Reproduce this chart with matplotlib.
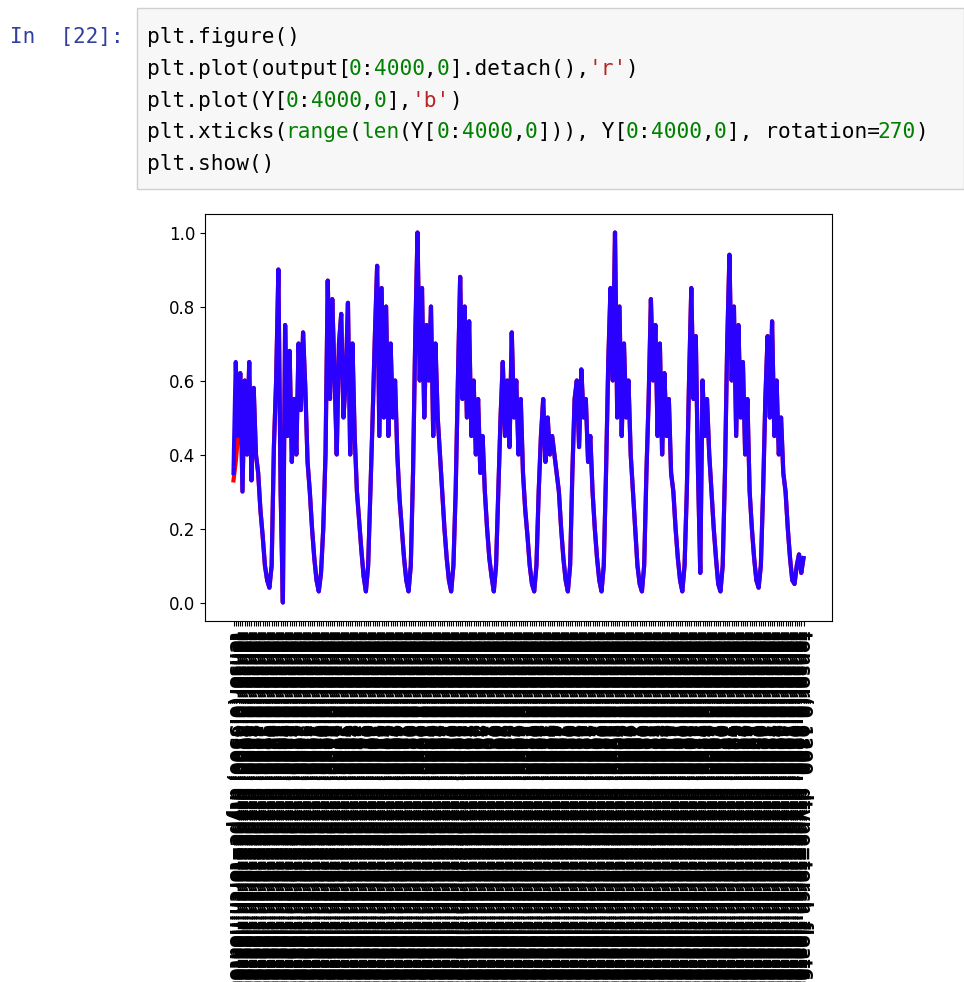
import matplotlib
matplotlib.use('Agg')
import matplotlib.pyplot as plt

# blue: target Y[0:4000,0], sampled by eye along the curve
Y_vals = [0.35, 0.65, 0.45, 0.62, 0.3, 0.6, 0.4, 0.65, 0.33, 0.58, 0.4, 0.35, 0.25, 0.18, 0.1, 0.06, 0.04,
          0.1, 0.42, 0.6, 0.9, 0.3, 0.0, 0.75, 0.45, 0.68, 0.38, 0.55, 0.4, 0.7, 0.52, 0.73, 0.58, 0.38, 0.3, 0.2, 0.12, 0.06, 0.03,
          0.08, 0.2, 0.4, 0.87, 0.55, 0.82, 0.62, 0.4, 0.7, 0.78, 0.5, 0.6, 0.81, 0.4, 0.7, 0.45, 0.3, 0.22, 0.14, 0.07, 0.03,
          0.1, 0.3, 0.5, 0.72, 0.91, 0.45, 0.85, 0.5, 0.8, 0.45, 0.7, 0.5, 0.6, 0.4, 0.28, 0.2, 0.12, 0.06, 0.03,
          0.1, 0.35, 0.72, 1.0, 0.6, 0.85, 0.5, 0.75, 0.6, 0.8, 0.45, 0.7, 0.5, 0.4, 0.3, 0.2, 0.12, 0.06, 0.03,
          0.1, 0.3, 0.6, 0.88, 0.55, 0.8, 0.5, 0.76, 0.45, 0.6, 0.4, 0.55, 0.35, 0.45, 0.3, 0.2, 0.12, 0.07, 0.03,
          0.1, 0.3, 0.5, 0.65, 0.45, 0.6, 0.42, 0.73, 0.5, 0.6, 0.4, 0.55, 0.35, 0.25, 0.18, 0.1, 0.05, 0.03,
          0.1, 0.3, 0.45, 0.55, 0.38, 0.5, 0.4, 0.45, 0.4, 0.35, 0.3, 0.2, 0.12, 0.06, 0.03,
          0.1, 0.35, 0.55, 0.6, 0.42, 0.63, 0.5, 0.55, 0.38, 0.45, 0.3, 0.2, 0.12, 0.06, 0.03,
          0.1, 0.35, 0.65, 0.85, 0.6, 1.0, 0.5, 0.8, 0.45, 0.7, 0.5, 0.6, 0.4, 0.3, 0.2, 0.1, 0.05, 0.03,
          0.1, 0.35, 0.55, 0.82, 0.6, 0.75, 0.45, 0.7, 0.4, 0.62, 0.45, 0.55, 0.35, 0.3, 0.2, 0.12, 0.06, 0.03,
          0.1, 0.3, 0.6, 0.85, 0.55, 0.72, 0.35, 0.08, 0.6, 0.45, 0.55, 0.4, 0.3, 0.2, 0.12, 0.05, 0.03,
          0.1, 0.35, 0.7, 0.94, 0.6, 0.8, 0.45, 0.75, 0.5, 0.65, 0.4, 0.55, 0.3, 0.2, 0.12, 0.06, 0.04,
          0.1, 0.3, 0.55, 0.72, 0.5, 0.76, 0.45, 0.6, 0.4, 0.5, 0.35, 0.3, 0.2, 0.12, 0.06, 0.05, 0.1, 0.13, 0.08, 0.12]
# red: model output, almost entirely hidden under the blue line
out_vals = list(Y_vals)
out_vals[0] = 0.33
out_vals[1] = 0.38

fig = plt.figure(figsize=(9.64, 9.82), dpi=100)

# notebook cell
fig.patches.append(plt.Rectangle((137 / 964, 1 - 189 / 982), 827 / 964, 181 / 982,
                                 transform=fig.transFigure, facecolor='#f7f7f7',
                                 edgecolor='#cfcfcf', lw=1))
fig.text(10 / 964, 1 - 37 / 982, 'In  [22]:', color='#303f9f', fontsize=15,
         family='DejaVu Sans Mono', va='center')

code = [
    [('plt.figure()', 'k')],
    [('plt.plot(output[', 'k'), ('0', 'g'), (':', 'k'), ('4000', 'g'), (',', 'k'), ('0', 'g'),
     ('].detach(),', 'k'), ("'r'", '#ba2121'), (')', 'k')],
    [('plt.plot(Y[', 'k'), ('0', 'g'), (':', 'k'), ('4000', 'g'), (',', 'k'), ('0', 'g'),
     ('],', 'k'), ("'b'", '#ba2121'), (')', 'k')],
    [('plt.xticks(', 'k'), ('range', 'g'), ('(', 'k'), ('len', 'g'), ('(Y[', 'k'), ('0', 'g'),
     (':', 'k'), ('4000', 'g'), (',', 'k'), ('0', 'g'), ('])), Y[', 'k'), ('0', 'g'), (':', 'k'),
     ('4000', 'g'), (',', 'k'), ('0', 'g'), ('], rotation=', 'k'), ('270', 'g'), (')', 'k')],
    [('plt.show()', 'k')],
]
code_y = [37, 69, 101, 132, 164]
cw = 12.6  # px per character
for line, yy in zip(code, code_y):
    n = 0
    for tok, col in line:
        fig.text((147 + n * cw) / 964, 1 - yy / 982, tok, color=('#008000' if col == 'g' else col),
                 fontsize=15.2, family='DejaVu Sans Mono', va='center')
        n += len(tok)

ax = fig.add_axes([205 / 964, 1 - 621 / 982, 627 / 964, 407 / 982])
ax.plot(out_vals, 'r', lw=3)
ax.plot(Y_vals, color='#2a00ff', lw=3)
ax.set_xticks(range(len(Y_vals)))
ax.set_xticklabels(['tensor(%.4f, dtype=torch.float64)' % v for v in Y_vals],
                   rotation=270, fontsize=13, fontweight='bold')
ax.set_yticks([0.0, 0.2, 0.4, 0.6, 0.8, 1.0])
ax.tick_params(axis='y', labelsize=12)

fig.savefig('out.png', dpi=100)
